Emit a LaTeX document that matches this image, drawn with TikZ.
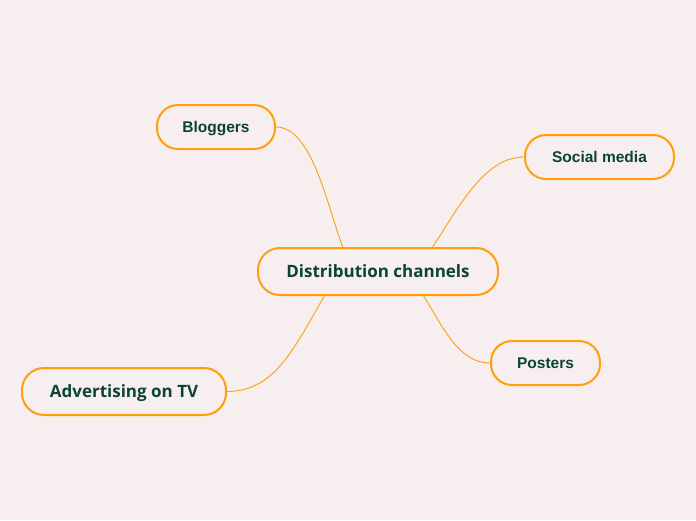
\documentclass[tikz,border=0pt]{standalone}
\usepackage{fontspec}
\setmainfont{Open Sans}
\newfontfamily\leaffont{Liberation Sans}
\definecolor{bgc}{HTML}{F7EEF0}
\definecolor{orng}{HTML}{FF9F0A}
\definecolor{txtc}{HTML}{0B4430}
\begin{document}
\begin{tikzpicture}[x=1pt,y=-1pt,
  mainbox/.style={draw=orng,line width=2pt,rounded corners=22pt,fill=bgc,text=txtc,font=\fontsize{17}{20}\selectfont\bfseries,inner sep=0pt,text height=12pt,text depth=0pt},
  leafbox/.style={draw=orng,line width=2pt,rounded corners=21pt,fill=bgc,text=txtc,font=\leaffont\fontsize{15.5}{18}\selectfont\bfseries,inner sep=0pt,minimum height=44pt,text height=11pt,text depth=0pt},
  link/.style={draw=orng,line width=0.9pt}]
\fill[bgc] (0,0) rectangle (696,520);
\useasboundingbox (0,0) rectangle (696,520);
\node[mainbox,minimum width=240pt,minimum height=47pt] (c) at (378,271.5) {Distribution channels};
\node[leafbox,minimum width=118pt] (b) at (216,127) {Bloggers};
\node[leafbox,minimum width=149pt] (s) at (599.5,157) {Social media};
\node[leafbox,minimum width=109pt] (p) at (545.5,363) {Posters};
\node[mainbox,minimum width=204pt,minimum height=47pt] (a) at (124,391.5) {Advertising on TV};
\coordinate (cb) at (343,248);
\coordinate (cs) at (432,248);
\coordinate (cp) at (423,295);
\coordinate (ca) at (325,295);
\draw[link] (b.east) .. controls (312,127) and (327,205) .. (cb);
\draw[link] (s.west) .. controls (485,157) and (460,205) .. (cs);
\draw[link] (p.west) .. controls (458,363) and (442,325) .. (cp);
\draw[link] (a.east) .. controls (275,391.5) and (294,348) .. (ca);
\end{tikzpicture}
\end{document}
